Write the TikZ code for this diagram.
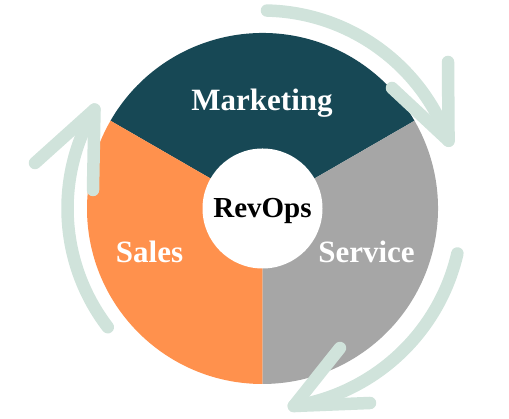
\documentclass[tikz,border=0pt]{standalone}
\usepackage{fontspec}
\setmainfont{Liberation Serif}
\usetikzlibrary{calc}
\definecolor{mktcolor}{RGB}{23,72,85}
\definecolor{salescolor}{RGB}{255,145,77}
\definecolor{servcolor}{RGB}{166,166,166}
\definecolor{arccolor}{RGB}{208,227,219}

\begin{document}
\begin{tikzpicture}[
  x=1pt, y=1pt,
  seglabel/.style={font=\fontsize{31}{31}\selectfont\bfseries, text=white, anchor=base, inner sep=0pt},
  flowarc/.style={draw=arccolor, line width=12.5pt, line cap=round, line join=round}
]
\useasboundingbox (0,0) rectangle (509,419);
\coordinate (C) at (262.5,210.5);

% Segmente
\fill[mktcolor] (C) -- ($(C)+(150:175.5)$) arc[start angle=150, end angle=30, radius=175.5] -- cycle;
\fill[salescolor] (C) -- ($(C)+(270:175.5)$) arc[start angle=270, end angle=150, radius=175.5] -- cycle;
\fill[servcolor] (C) -- ($(C)+(30:175.5)$) arc[start angle=30, end angle=-90, radius=175.5] -- cycle;

% Mitte
\node[circle, fill=white, minimum size=120pt, inner sep=0pt] (hub) at (C) {};
\node[seglabel, font=\fontsize{29}{29}\selectfont\bfseries, text=black] (revops) at (262.5,201) {RevOps};

% Beschriftungen
\node[seglabel] (mkt) at (262,308) {Marketing};
\node[seglabel] (sales) at (149.5,156) {Sales};
\node[seglabel] (serv) at (366.5,156) {Service};

% Pfeile im Kreis
\draw[flowarc] ($(C)+(88.7:198)$) arc[start angle=88.7, end angle=20, radius=198] coordinate (tipA);
\draw[flowarc] (448,357) -- (tipA) -- (392,331);

\draw[flowarc] ($(C)+(-13:200)$) arc[start angle=-13, end angle=-81, radius=200] coordinate (tipB);
\draw[flowarc] (340,71) -- (tipB) -- (370,16);

\draw[flowarc] ($(C)+(217.5:195)$) arc[start angle=217.5, end angle=149.5, radius=195] coordinate (tipC);
\draw[flowarc] (35,256) -- (tipC) -- (93,229);

\end{tikzpicture}
\end{document}
